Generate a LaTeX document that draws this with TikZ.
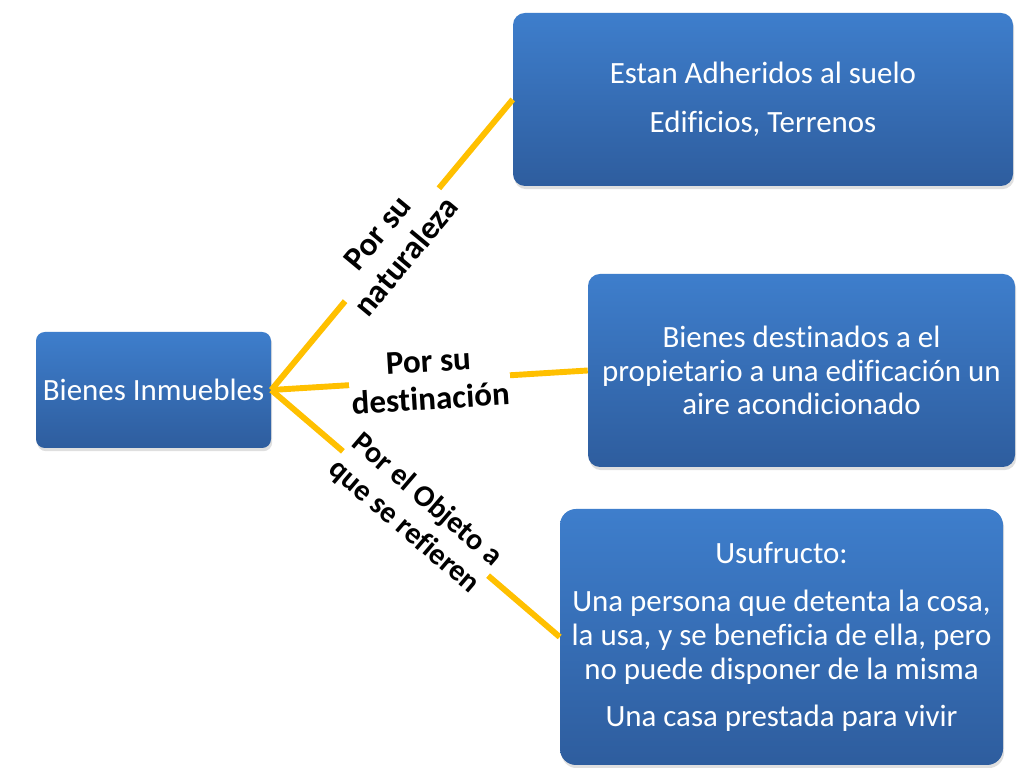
\documentclass[tikz,border=0pt]{standalone}
\usepackage{fontspec}
\setmainfont{Carlito}[Ligatures=NoCommon]
\usetikzlibrary{shadows}

\definecolor{boxtop}{RGB}{62,126,204}
\definecolor{boxbot}{RGB}{46,93,158}
\definecolor{linkcol}{RGB}{255,192,0}

\begin{document}
\begin{tikzpicture}[
    box/.style={rounded corners=0.3cm, top color=boxtop, bottom color=boxbot, text=white, align=center,
      font=\fontsize{22}{24}\selectfont,
      drop shadow={shadow xshift=0.03cm, shadow yshift=-0.08cm, opacity=0.25}},
    link/.style={draw=linkcol, line width=4.2pt},
    lbl/.style={midway, sloped, fill=white, inner sep=1pt, align=center, font=\bfseries\fontsize{23.5}{26.5}\selectfont}]
        \useasboundingbox[fill=white] (0,0) rectangle (25.6,19.2);

        \node[box, rounded corners=0.22cm, minimum width=5.875cm, minimum height=2.9cm] (BI) at (3.8375,9.45) {Bienes Inmuebles};
        \node[box, minimum width=12.5cm, minimum height=4.325cm] (NAT) at (19.075,16.7125)
            {Estan Adheridos al suelo\\[11pt]Edificios, Terrenos};
        \node[box, minimum width=10.675cm, minimum height=4.825cm] (DES) at (20.0375,9.9375)
            {Bienes destinados a el\\propietario a una edificación un\\aire acondicionado};
        \node[box, rounded corners=0.4cm, minimum width=11.075cm, minimum height=6.4cm] (OBJ) at (19.5375,3.275)
            {Usufructo:\\[10pt]Una persona que detenta la cosa,\\la usa, y se beneficia de ella, pero\\no puede disponer de la misma\\[9.5pt]Una casa prestada para vivir};

        \draw[link] (BI.east) -- (OBJ.west) node[lbl, font=\bfseries\fontsize{21.5}{25}\selectfont] {Por el Objeto a\\que se refieren};
        \draw[link] (BI.east) -- (NAT.west) node[lbl] {Por su\\naturaleza};
        \draw[link] (BI.east) -- (DES.west) node[lbl] {Por su\\destinación};
    \end{tikzpicture}
\end{document}
